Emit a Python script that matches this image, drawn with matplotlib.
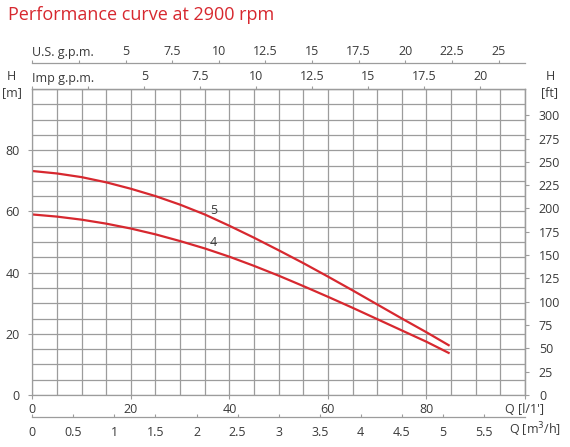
import matplotlib
matplotlib.use("Agg")
import matplotlib.pyplot as plt
from matplotlib.ticker import MultipleLocator, FixedLocator

plt.rcParams['font.family'] = ['Open Sans', 'DejaVu Sans']

# ---- data ----
q_lpm = [0, 5, 10, 15, 20, 25, 30, 35, 40, 45, 50, 55, 60, 65, 70, 75, 80, 84.7]
h_curve5 = [73.2, 72.4, 71.2, 69.5, 67.4, 65.0, 62.2, 59.0, 55.3, 51.4, 47.3, 43.1, 38.7, 34.2, 29.6, 25.0, 20.5, 16.1]
h_curve4 = [59.0, 58.3, 57.3, 56.0, 54.4, 52.5, 50.3, 47.9, 45.2, 42.2, 39.0, 35.6, 32.1, 28.5, 24.8, 21.1, 17.4, 13.6]
curve_names = ["5", "4"]
curve_label_pos = [(36.9, 60.4), (36.7, 49.7)]

h_m_ticks = [0, 20, 40, 60, 80]
q_ticks = [0, 20, 40, 60, 80, 100]
q_ticklabels = ["0", "20", "40", "60", "80", "Q [l/1']"]
ft_ticks = list(range(0, 301, 25))
m3h_ticks = [0, 0.5, 1, 1.5, 2, 2.5, 3, 3.5, 4, 4.5, 5, 5.5]
m3h_ticklabels = ["0", "0.5", "1", "1.5", "2", "2.5", "3", "3.5", "4", "4.5", "5", "5.5"]
usgpm_ticks = [0, 2.5, 5, 7.5, 10, 12.5, 15, 17.5, 20, 22.5, 25]
usgpm_ticklabels = ["", "", "5", "7.5", "10", "12.5", "15", "17.5", "20", "22.5", "25"]
impgpm_ticks = [0, 2.5, 5, 7.5, 10, 12.5, 15, 17.5, 20]
impgpm_ticklabels = ["", "", "5", "7.5", "10", "12.5", "15", "17.5", "20"]

title = "Performance curve at 2900 rpm"

RED = "#d7282f"
GRID = "#9c9c9c"
TXT = "#3a3a3a"
US_GAL = 3.78541
IMP_GAL = 4.54609
FT = 0.3048

fig = plt.figure(figsize=(5.70, 4.47), dpi=100)
W, H = 570, 447
ax = fig.add_axes([32.3 / W, 1 - 395 / H, (525 - 32.3) / W, (395 - 89) / H])
ax.set_xlim(0, 100)
ax.set_ylim(0, 100)

# grid
ax.xaxis.set_minor_locator(MultipleLocator(5))
ax.yaxis.set_minor_locator(MultipleLocator(5))
ax.grid(which='both', color=GRID, linewidth=0.9)
ax.set_axisbelow(True)
ax.tick_params(which='minor', length=0)
for s in ax.spines.values():
    s.set_color(GRID)
    s.set_linewidth(0.9)

ax.set_yticks(h_m_ticks)
ax.set_yticklabels([str(v) for v in h_m_ticks])
ax.set_xticks(q_ticks)
ax.set_xticklabels(q_ticklabels)
ax.tick_params(axis='y', which='major', length=3, color=GRID, labelsize=9, labelcolor=TXT, pad=6)
ax.tick_params(axis='x', which='major', length=3, color=GRID, labelsize=9, labelcolor=TXT, pad=3)

# curves
for hv, name, (lx, ly) in zip([h_curve5, h_curve4], curve_names, curve_label_pos):
    ax.plot(q_lpm, hv, color=RED, linewidth=1.6, solid_capstyle='butt', solid_joinstyle='round')
    ax.text(lx, ly, name, fontsize=9, color=TXT, ha='center', va='center')

# right ft axis
sec_ft = ax.secondary_yaxis('right', functions=(lambda m: m / FT, lambda f: f * FT))
sec_ft.set_yticks(ft_ticks)
sec_ft.tick_params(length=3, color=GRID, labelsize=9, labelcolor=TXT, pad=7)
for s in sec_ft.spines.values():
    s.set_color(GRID)
    s.set_linewidth(0.9)

# imp gpm axis (top of grid)
sec_imp = ax.secondary_xaxis('top', functions=(lambda q: q / IMP_GAL, lambda g: g * IMP_GAL))
sec_imp.xaxis.set_major_locator(FixedLocator(impgpm_ticks))
sec_imp.set_xticklabels(impgpm_ticklabels)
sec_imp.tick_params(length=2.5, color=GRID, labelsize=9, labelcolor=TXT, pad=1.5)
for s in sec_imp.spines.values():
    s.set_color(GRID)
    s.set_linewidth(0.9)

# US gpm axis (separate line above)
sec_us = ax.secondary_xaxis(1 + (89 - 63.3) / 306, functions=(lambda q: q / US_GAL, lambda g: g * US_GAL))
sec_us.xaxis.set_ticks_position('top')
sec_us.xaxis.set_major_locator(FixedLocator(usgpm_ticks))
sec_us.set_xticklabels(usgpm_ticklabels)
sec_us.tick_params(length=2.5, color=GRID, labelsize=9, labelcolor=TXT, pad=1.5)
for s in sec_us.spines.values():
    s.set_color(GRID)
    s.set_linewidth(0.9)

# m3/h axis (separate line below)
sec_m3 = ax.secondary_xaxis(-(417.3 - 395) / 306, functions=(lambda q: q * 60 / 1000, lambda m: m * 1000 / 60))
sec_m3.xaxis.set_ticks_position('bottom')
sec_m3.xaxis.set_major_locator(FixedLocator(m3h_ticks))
sec_m3.set_xticklabels(m3h_ticklabels)
sec_m3.tick_params(length=2.5, direction='in', color=GRID, labelsize=9, labelcolor=TXT, pad=6)
for s in sec_m3.spines.values():
    s.set_color(GRID)
    s.set_linewidth(0.9)

# axis name texts
fig.text(32.3 / W, 1 - 52.3 / H, "U.S. g.p.m.", fontsize=9, color=TXT, ha='left', va='center')
fig.text(32.3 / W, 1 - 78.3 / H, "Imp g.p.m.", fontsize=9, color=TXT, ha='left', va='center')
fig.text(11.7 / W, 1 - 76.5 / H, "H", fontsize=9, color=TXT, ha='center', va='center')
fig.text(11.7 / W, 1 - 92.5 / H, "[m]", fontsize=9, color=TXT, ha='center', va='center')
fig.text(550 / W, 1 - 76.5 / H, "H", fontsize=9, color=TXT, ha='center', va='center')
fig.text(550 / W, 1 - 92.5 / H, "[ft]", fontsize=9, color=TXT, ha='center', va='center')
fig.text(535 / W, 1 - 430 / H, "Q [m$^3$/h]", fontsize=9, color=TXT, ha='center', va='center')

fig.text(8 / W, 1 - 15 / H, title, fontsize=13, color=RED, ha='left', va='center')

fig.savefig("out.png", dpi=100)
